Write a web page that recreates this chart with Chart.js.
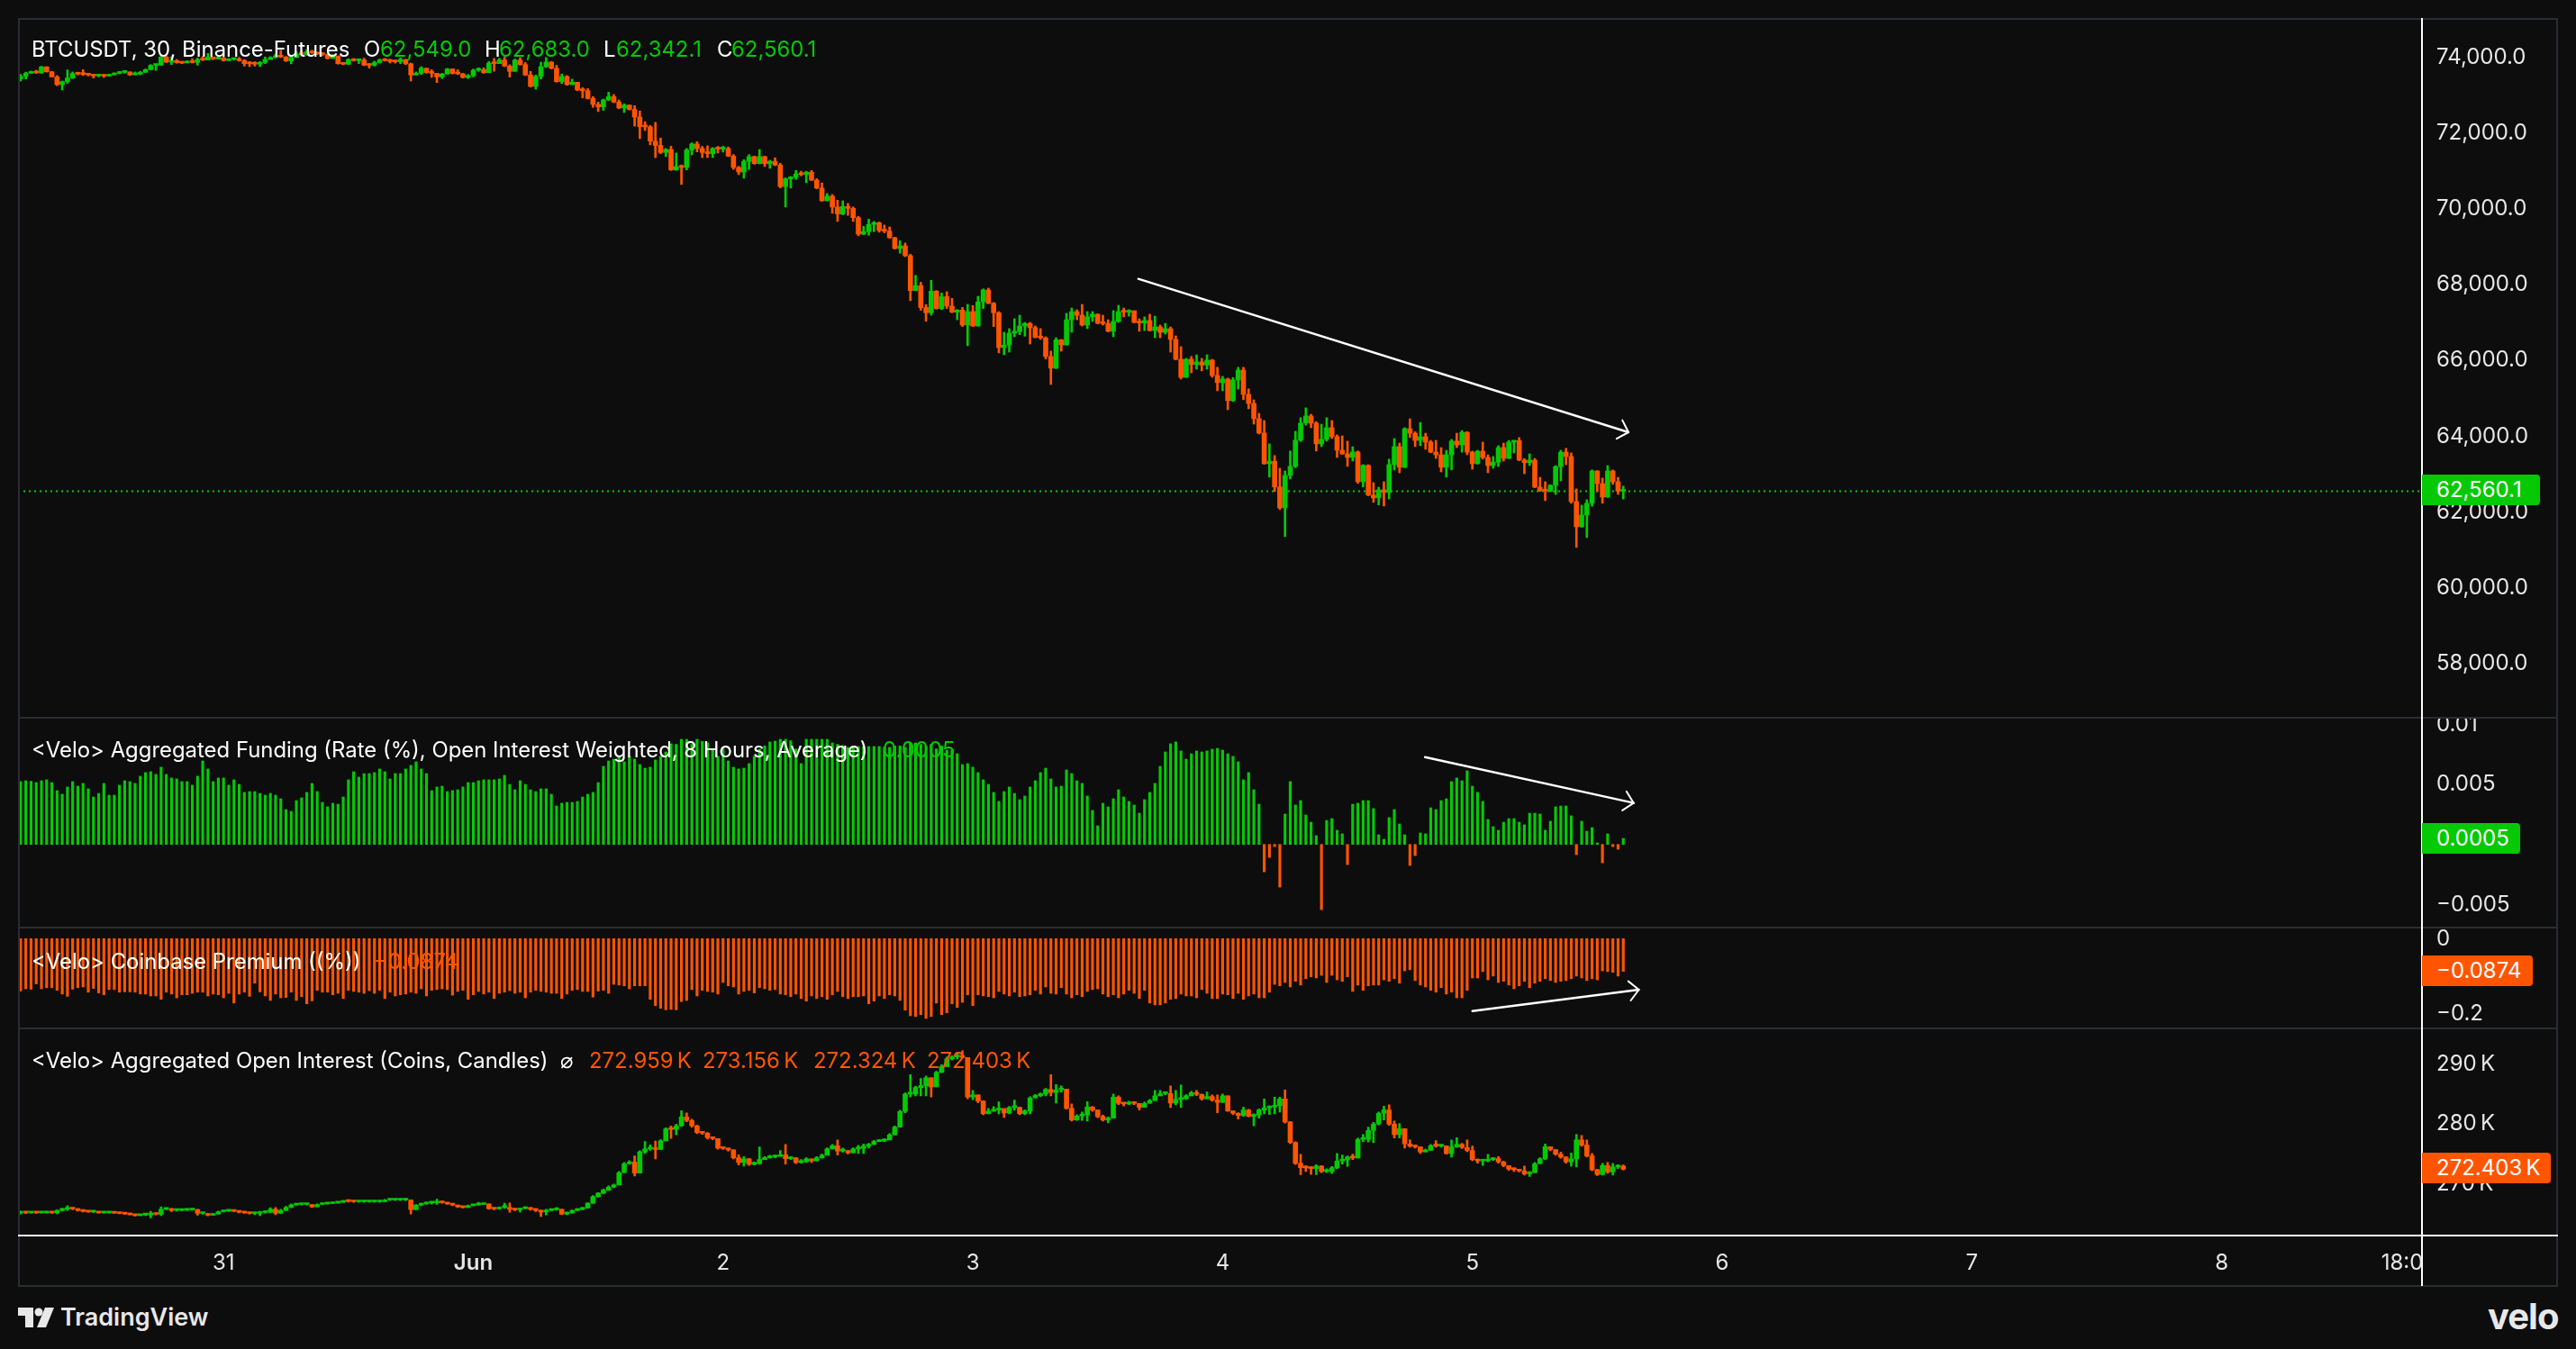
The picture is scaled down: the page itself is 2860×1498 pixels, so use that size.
<!DOCTYPE html>
<html><head><meta charset="utf-8">
<script src="https://cdn.jsdelivr.net/npm/chart.js@4/dist/chart.umd.min.js"></script>
<style>
html,body{margin:0;padding:0;background:#0d0d0e;width:2860px;height:1498px;overflow:hidden}
#s{position:relative;width:2860px;height:1498px;font-family:Inter,"Noto Sans",sans-serif}
canvas{position:absolute;left:0}
.l{position:absolute;background:#2a2c34}
.w{position:absolute;background:#fff}
.t{position:absolute;font-size:23.9px;line-height:30px;height:30px;color:#fff;white-space:pre;margin-top:-15px}
.g{color:#05c905}.o{color:#ff5500}
.tag{position:absolute;left:2689px;height:34px;line-height:34px;font-size:24px;color:#fff;padding-left:16px;box-sizing:border-box;border-radius:0 4px 4px 0}
</style></head><body><div id="s">
<canvas id="c1" width="2860" height="777" style="top:20px"></canvas>
<canvas id="c2" width="2860" height="233" style="top:797px"></canvas>
<canvas id="c3" width="2860" height="112" style="top:1030px"></canvas>
<canvas id="c4" width="2860" height="286" style="top:1142px"></canvas>
</div>
<script>
// ---- data ----
const btcFirstOpen = 73430;
const btcClose = [
73500,73580,73620,73590,73750,73620,73485,73280,73360,73455,
73575,73560,73550,73535,73510,73520,73505,73540,73575,73605,
73615,73540,73560,73605,73675,73790,73795,74010,73875,73915,
73860,73850,73890,73865,73945,73930,74010,73955,73985,73915,
73945,73955,73915,73835,73830,73820,73865,73945,73995,74040,
74010,73905,73995,74090,74075,74150,74120,74090,74075,73970,
74040,73835,73820,73940,73915,73930,73795,73790,73865,73930,
73915,73890,73883,73945,73830,73535,73580,73715,73600,73580,
73485,73560,73695,73575,73565,73470,73520,73660,73675,73595,
73850,73835,73930,73772,73630,73930,73810,73535,73235,73495,
73755,73875,73710,73360,73495,73280,73345,73140,73120,72915,
72760,72695,72875,72965,72820,72665,72740,72625,72425,72170,
72165,71790,71675,71490,71570,71030,71120,71095,71555,71715,
71595,71490,71460,71595,71580,71595,71395,71095,70975,71255,
71380,71195,71380,71195,71255,71160,70590,70795,70835,70920,
70905,70970,70760,70550,70215,70335,70050,69865,70065,70015,
69770,69335,69400,69590,69635,69430,69415,69240,68955,69025,
68765,67845,67975,67395,67260,67830,67370,67685,67435,67275,
67330,66935,67290,66910,67545,67860,67510,67260,66340,66405,
66720,66760,66910,66975,66865,66610,66595,66105,65795,66545,
66410,67075,67290,67195,66935,67150,67220,66980,66975,66770,
67030,67290,67275,67315,67005,66990,67055,66790,66885,66745,
66840,66555,66030,65555,66030,65890,65960,65880,66010,65605,
65415,65510,64940,65485,65745,65105,64865,64465,64085,63275,
63340,62660,62110,62965,63205,63895,64345,64535,64345,63800,
63915,64225,63990,63630,63535,63440,63585,62800,63230,62445,
62375,62585,62515,63250,63725,63180,64200,64080,63890,63985,
63845,63580,63510,63180,63510,63870,63770,64105,63580,63275,
63605,63440,63225,63315,63700,63415,63845,63885,63370,63300,
63370,62655,62560,62555,62705,63200,63580,63465,62275,61610,
61920,62230,63085,62750,62395,63085,62800,62549,62560.1];
const btcHigh = [
73550,73610,73640,73660,73765,73755,73630,73520,73375,73670,
73615,73600,73675,73580,73550,73550,73545,73560,73590,73630,
73630,73620,73615,73630,73695,73810,73820,74025,74025,74010,
73945,73890,73915,73960,73985,74025,74105,74010,74020,74010,
73970,73970,74000,73940,73890,73885,73890,74010,74020,74090,
74185,74025,74025,74150,74185,74205,74185,74135,74120,74090,
74075,74025,73865,73965,73970,73955,73980,73830,73900,73955,
73970,73955,73930,73985,73945,73850,73615,73755,73710,73675,
73565,73580,73710,73695,73675,73580,73550,73690,73725,73725,
73890,73970,73975,74010,73805,73955,73995,73865,73630,73535,
73875,73995,73890,73790,73560,73520,73425,73335,73200,73175,
72965,72820,72900,73080,73020,72875,72775,72740,72725,72585,
72300,72205,72285,71870,71595,71655,71475,71160,71595,71745,
71775,71650,71665,71620,71650,71655,71635,71435,71125,71300,
71435,71395,71570,71395,71285,71350,71205,70820,70855,71015,
70995,70995,71015,70800,70685,70405,70380,70230,70215,70145,
70050,69805,69540,69730,69670,69655,69575,69525,69255,69160,
69100,68805,68245,68065,67475,68115,67845,67780,67815,67640,
67345,67400,67480,67450,67695,67890,67910,67530,67290,66745,
66840,67100,67195,67005,67005,66910,66840,66625,66245,66600,
66555,67245,67385,67340,67480,67290,67290,67230,67195,67075,
67315,67455,67385,67340,67300,67100,67150,67220,67170,66935,
66980,66885,66650,66365,66055,66105,66150,66055,66150,66030,
65820,65580,65535,65550,65820,65820,65250,64960,64605,64415,
63800,63490,63155,63085,63610,64130,64490,64750,64580,64385,
64320,64490,64415,64035,64010,63870,63725,63610,63250,63250,
62775,62655,62800,63395,63940,63820,64225,64460,64120,64365,
64080,63890,63890,63700,63630,63915,64080,64150,64120,63605,
63630,63845,63510,63465,63750,63820,63890,63890,63965,63410,
63535,63415,62915,62800,62720,63225,63630,63680,63560,62610,
62180,62325,63110,63090,62895,63225,63110,62915,62683];
const btcLow = [
73375,73430,73580,73575,73575,73610,73480,73255,73140,73315,
73440,73535,73520,73510,73455,73485,73470,73505,73540,73565,
73580,73520,73535,73540,73600,73670,73655,73790,73860,73810,
73845,73835,73865,73850,73795,73915,73930,73940,73960,73900,
73915,73925,73900,73770,73755,73770,73755,73835,73945,73980,
73995,73890,73830,73995,74055,74055,74105,74075,74040,73955,
73995,73820,73805,73810,73900,73835,73780,73715,73770,73850,
73900,73850,73850,73835,73810,73375,73535,73550,73580,73470,
73335,73440,73560,73560,73550,73455,73440,73485,73630,73580,
73595,73635,73835,73755,73480,73630,73795,73520,73215,73160,
73430,73730,73695,73345,73310,73265,73280,73120,72930,72900,
72680,72570,72600,72855,72805,72645,72545,72610,72185,71855,
72070,71690,71355,71460,71380,71015,71015,70645,71030,71425,
71505,71355,71355,71355,71475,71500,71380,71045,70905,70810,
71045,71180,71190,71120,71070,71140,70555,70050,70550,70780,
70875,70690,70745,70530,70200,70210,69885,69670,69845,69830,
69670,69290,69320,69305,69400,69385,69370,69225,68940,68830,
68740,67580,67840,67325,67035,67195,67355,67340,67370,67260,
67075,66895,66390,66895,66905,67370,67495,66895,66200,66150,
66220,66625,66680,66640,66435,66595,66555,66040,65365,65785,
66245,66405,66745,67075,66910,66840,67030,66965,66935,66755,
66625,67005,67150,67170,66990,66770,66790,66775,66600,66600,
66695,66220,66015,65510,65550,65675,65770,65725,65770,65555,
65200,65200,64700,64915,65245,64965,64725,64320,64060,63260,
62920,62540,62065,61350,62870,63170,63860,64295,64225,63610,
63725,63870,63940,63440,63520,63205,63345,62755,62660,62430,
62255,62185,62160,62345,63110,63035,63170,63965,63725,63750,
63655,63565,63415,63060,62920,63110,63700,63580,63510,63130,
63265,63395,63035,63155,63200,63345,63410,63560,63355,63010,
63225,62640,62545,62300,62535,62465,62820,63250,62230,61065,
61600,61325,62155,62540,62230,62385,62730,62465,62342.1];

const fundingRate = [
.00523,.0053,.00525,.00515,.0053,.00538,.00515,.00448,.00418,.00478,
.00523,.00485,.00508,.00463,.00395,.00425,.00508,.0041,.0041,.00493,
.0053,.00523,.00508,.00568,.00598,.00605,.00583,.00643,.00583,.00553,
.00545,.00523,.00523,.00493,.00568,.00695,.00628,.00523,.00553,.00553,
.00493,.00538,.005,.00433,.0044,.0044,.00425,.0041,.00425,.0041,
.0038,.0029,.00275,.00365,.00388,.00433,.00508,.0044,.0035,.00313,
.00343,.00335,.00395,.00538,.00605,.0056,.0059,.0059,.00598,.00628,
.00605,.00545,.0059,.0059,.00628,.00658,.00688,.00628,.0059,.00448,
.00478,.00485,.0044,.00448,.00455,.00478,.00515,.00515,.0053,.00538,
.00538,.00538,.00545,.00575,.005,.00455,.0053,.005,.00455,.0044,
.00463,.00463,.00418,.0032,.00343,.0035,.0035,.00358,.00395,.00418,
.00433,.00515,.0065,.00695,.0071,.00733,.00688,.00733,.0071,.00665,
.00635,.00643,.00703,.00733,.0077,.00838,.00833,.00875,.00875,.00833,
.00875,.00858,.00845,.00793,.00733,.00793,.00695,.00643,.00628,.00635,
.00673,.00733,.00793,.0082,.00853,.0086,.00875,.00875,.00863,.00793,
.00673,.00875,.00875,.00875,.00875,.00875,.00845,.00833,.00823,.00808,
.00808,
.00815,.00815,.00815,.00815,.00815,.00808,.00808,.0082,.0082,.00808,
.00845,.00845,.00833,.0082,.00833,.00795,.0082,.00783,.00783,.00755,
.00665,.00673,.00643,.00598,.00538,.005,.00433,.00358,.0044,.00478,
.00425,.00373,.00403,.00478,.0053,.00598,.00635,.00545,.00478,.00485,
.0062,.0059,.0053,.00508,.00403,.00283,.00155,.00343,.00313,.0038,
.00455,.00395,.00358,.00328,.0026,.00373,.00433,.00508,.0065,.0077,
.00838,.00853,.00778,.0071,.00755,.00778,.0077,.00778,.00793,.008,
.00785,.00755,.00733,.00688,.00538,.00598,.00455,.00335,-.00228,-.00108,
-.00018,-.00355,.00253,.00523,.00328,.00365,.00245,.00185,.00073,-.00543,
.002,.00215,.00118,.00088,-.00168,.00335,.00343,.00365,.00365,.00298,
.0008,.00043,.00223,.0029,.0017,.0008,-.00175,-.00093,.00095,.00088,
.00305,.0029,.00365,.0038,.00523,.00553,.0053,.00613,.00485,.00433,
.00358,.00208,.00148,.00118,.00185,.00215,.00215,.00185,.00163,.0026,
.0026,.00253,.00118,.00193,.00313,.0032,.0032,.00238,-.00085,.00193,
.0011,.0014,.00013,-.00153,.00088,-.00018,-.0004,.0005];

const coinbasePremium = [
-.140,-.134,-.135,-.121,-.134,-.131,-.131,-.138,-.148,-.154,
-.135,-.131,-.129,-.143,-.133,-.145,-.150,-.136,-.136,-.143,
-.142,-.142,-.143,-.148,-.148,-.153,-.153,-.162,-.143,-.148,
-.158,-.150,-.150,-.146,-.143,-.143,-.153,-.148,-.150,-.158,
-.146,-.172,-.148,-.143,-.154,-.119,-.142,-.153,-.165,-.148,
-.158,-.157,-.143,-.165,-.155,-.174,-.166,-.138,-.143,-.143,
-.150,-.146,-.160,-.138,-.141,-.143,-.146,-.139,-.146,-.138,
-.160,-.143,-.153,-.150,-.148,-.143,-.146,-.134,-.153,-.138,
-.136,-.134,-.136,-.151,-.141,-.138,-.162,-.150,-.141,-.148,
-.143,-.160,-.146,-.143,-.139,-.146,-.143,-.158,-.143,-.138,
-.141,-.143,-.146,-.146,-.160,-.148,-.138,-.136,-.141,-.141,
-.156,-.140,-.138,-.146,-.122,-.124,-.126,-.134,-.126,-.126,
-.126,-.162,-.179,-.186,-.190,-.189,-.190,-.168,-.165,-.136,
-.153,-.138,-.141,-.143,-.148,-.117,-.126,-.129,-.148,-.141,
-.138,-.145,-.131,-.134,-.138,-.136,-.148,-.150,-.155,-.148,
-.160,-.167,-.153,-.160,-.155,-.162,-.150,-.141,-.155,-.160,
-.155,
-.155,-.153,-.174,-.167,-.153,-.160,-.150,-.153,-.165,-.191,
-.206,-.208,-.203,-.213,-.208,-.172,-.203,-.198,-.174,-.184,
-.170,-.150,-.179,-.150,-.153,-.155,-.158,-.141,-.148,-.153,
-.143,-.155,-.153,-.150,-.138,-.148,-.129,-.146,-.148,-.131,
-.148,-.158,-.150,-.155,-.141,-.136,-.134,-.148,-.155,-.150,
-.158,-.148,-.138,-.146,-.160,-.138,-.172,-.177,-.177,-.172,
-.162,-.160,-.148,-.153,-.153,-.158,-.136,-.146,-.160,-.160,
-.148,-.150,-.160,-.146,-.162,-.153,-.148,-.158,-.158,-.143,
-.122,-.126,-.117,-.129,-.114,-.124,-.107,-.102,-.105,-.098,
-.117,-.098,-.110,-.114,-.102,-.141,-.124,-.138,-.126,-.124,
-.124,-.110,-.114,-.107,-.119,-.086,-.083,-.112,-.124,-.129,
-.138,-.143,-.131,-.148,-.143,-.158,-.158,-.138,-.105,-.105,
-.088,-.110,-.100,-.117,-.114,-.124,-.134,-.126,-.114,-.131,
-.119,-.114,-.107,-.112,-.117,-.114,-.112,-.107,-.100,-.105,
-.112,-.107,-.110,-.086,-.088,-.090,-.100,-.0874];

const oiFirstOpen = 265.10;
const oiClose = [
265.24,265.14,265.19,265.14,265.14,265.24,265.14,265.54,265.74,265.94,
265.79,265.54,265.39,265.29,265.29,265.14,265.14,265.14,265.09,265.04,
264.94,264.84,264.69,264.79,264.79,264.99,264.89,265.74,265.84,265.54,
265.54,265.59,265.64,265.69,265.04,265.04,264.74,264.94,265.34,265.44,
265.49,265.39,265.24,265.14,265.04,265.04,265.19,265.24,265.74,265.09,
265.54,266.04,266.44,266.54,266.54,266.54,266.14,266.54,266.64,266.69,
266.79,266.89,267.09,267.04,266.99,266.99,266.99,266.99,266.99,266.99,
267.29,267.29,267.29,267.29,267.29,265.69,266.44,266.64,266.79,266.79,
267.04,266.84,266.64,266.44,266.14,266.04,266.34,266.44,266.54,266.64,
265.84,265.79,266.04,266.04,265.74,265.64,265.84,265.94,265.74,265.54,
265.29,265.54,265.64,265.74,264.94,265.14,265.54,265.74,265.94,266.74,
267.84,268.44,268.94,269.44,269.79,271.84,273.35,273.65,271.79,275.31,
275.81,275.81,275.71,277.16,279.16,279.06,279.66,281.17,280.57,279.66,
278.56,278.46,277.71,277.56,275.96,275.91,275.66,274.35,273.55,274.15,
273.25,273.35,274.05,274.35,274.50,274.55,274.85,274.20,274.35,273.55,
273.65,274.15,273.80,274.35,274.75,275.81,276.36,275.46,275.56,275.16,
275.81,275.91,276.31,276.56,277.06,277.16,277.31,278.16,279.46,282.07,
284.97,284.97,286.08,286.33,287.68,286.18,288.58,289.58,290.84,291.19,
291.34,291.09,284.47,284.82,283.82,281.72,282.12,282.32,282.57,281.82,
282.72,282.77,281.72,282.17,284.32,284.72,284.97,285.73,285.23,285.68,
285.83,282.57,280.67,281.32,281.47,282.82,282.32,281.22,280.67,280.97,
284.47,283.42,283.32,283.57,283.42,282.77,283.42,283.87,284.67,285.07,
285.07,283.47,284.07,284.17,284.67,285.23,284.92,284.17,284.57,283.97,
283.57,284.67,282.17,281.77,281.42,282.32,281.27,281.47,282.32,282.67,
282.82,283.07,284.17,280.32,276.91,273.40,272.70,272.65,272.55,272.95,
272.05,272.05,272.65,273.80,273.95,274.45,274.30,277.41,277.41,278.91,
279.96,281.77,282.32,279.96,278.21,279.21,276.66,276.31,276.16,275.31,
275.56,276.36,276.31,276.36,275.05,276.16,276.56,276.06,275.56,274.05,
273.80,273.80,274.05,274.20,273.65,273.05,272.45,272.35,272.15,271.65,
271.85,273.35,274.15,276.21,275.71,274.95,274.45,273.65,274.15,277.31,
276.46,274.65,272.35,271.55,273.05,271.95,272.80,272.959,272.403];
const oiHigh = [
265.44,265.29,265.29,265.24,265.34,265.39,265.29,265.64,265.94,266.34,
265.94,265.84,265.54,265.44,265.39,265.29,265.24,265.19,265.19,265.14,
265.09,264.99,264.89,264.89,264.94,265.39,265.14,266.14,265.94,265.89,
265.69,265.69,265.74,265.79,265.74,265.14,265.04,265.04,265.44,265.54,
265.59,265.54,265.44,265.29,265.19,265.14,265.39,265.44,265.99,266.04,
265.74,266.24,266.64,266.64,266.64,266.64,266.54,266.64,266.74,266.79,
266.89,266.99,267.19,267.14,267.09,267.09,267.09,267.09,267.09,267.09,
267.39,267.39,267.39,267.39,267.39,267.29,266.54,266.74,266.94,266.99,
267.44,267.04,266.84,266.64,266.44,266.14,266.44,266.54,266.89,266.74,
266.64,265.89,266.14,266.74,266.79,265.84,265.94,266.14,266.04,265.84,
265.59,265.74,265.74,266.04,265.74,265.29,265.64,265.84,266.04,266.84,
268.04,268.54,269.14,269.64,269.94,272.04,273.55,273.85,274.65,275.51,
277.06,276.51,277.15,277.36,279.36,279.66,279.96,282.22,281.82,280.76,
279.81,278.76,278.56,277.86,277.56,276.16,275.96,275.66,274.85,274.55,
274.25,273.65,276.16,274.55,274.75,274.75,275.56,276.56,274.55,274.35,
274.05,274.35,274.15,274.55,274.95,276.01,276.56,277.31,275.96,275.56,
276.01,276.41,276.66,276.76,277.26,277.36,277.51,278.36,279.66,282.27,
285.17,288.23,286.28,287.58,287.98,287.68,288.78,289.88,291.14,291.39,
291.94,292.19,290.94,285.58,284.82,283.82,282.58,282.87,283.67,282.42,
282.92,283.97,282.82,282.37,284.52,284.92,285.17,285.93,288.23,286.58,
286.33,285.83,283.32,281.52,281.97,283.72,282.92,282.32,281.47,281.17,
284.97,284.67,283.52,283.77,283.67,283.42,283.62,284.07,285.58,285.58,
285.27,286.33,285.58,286.48,284.87,285.43,285.58,284.97,285.33,284.82,
284.82,284.97,284.67,282.17,281.87,282.82,282.42,281.67,282.52,284.17,
283.02,284.47,284.47,285.68,280.42,277.01,274.90,273.00,272.90,273.20,
273.05,272.50,272.90,275.05,274.80,274.65,274.95,277.61,278.21,279.46,
280.26,281.97,282.97,283.17,280.46,280.06,279.21,277.31,276.51,276.16,
275.76,276.56,277.21,276.56,276.36,277.31,277.71,276.76,277.31,276.31,
274.15,274.00,274.90,274.40,274.55,273.80,273.05,272.65,272.40,272.95,
272.05,273.55,274.35,276.66,276.21,275.71,275.30,274.55,275.15,278.21,
278.06,277.31,275.05,272.45,273.40,273.55,273.40,273.20,273.156];
const oiLow = [
264.93,265.03,265.09,265.04,265.09,265.14,265.04,264.98,265.44,265.54,
265.64,265.44,265.29,265.24,265.19,265.09,265.09,265.09,265.04,264.99,
264.89,264.79,264.59,264.69,264.69,264.29,264.79,264.69,265.64,265.34,
265.44,265.49,265.54,265.59,264.74,264.89,264.64,264.74,264.94,265.29,
265.39,265.34,265.14,265.04,264.94,264.84,264.69,265.09,265.14,264.84,
265.04,265.49,266.04,266.44,266.44,266.44,266.04,266.14,266.54,266.59,
266.69,266.79,266.89,266.94,266.89,266.89,266.89,266.89,266.89,266.89,
266.99,267.19,267.19,267.19,267.19,264.94,265.64,266.34,266.59,266.59,
266.54,266.74,266.54,266.34,266.04,265.94,266.04,266.34,266.44,266.54,
265.74,265.64,265.74,265.89,265.24,265.49,265.29,265.84,265.59,265.34,
264.54,264.79,265.49,265.59,264.84,264.84,265.09,265.49,265.64,265.94,
266.74,267.74,268.34,268.84,269.34,269.79,271.84,273.25,271.29,271.79,
275.06,275.56,274.15,275.71,277.16,277.56,278.16,279.56,280.37,279.46,
278.36,278.26,277.46,277.36,275.76,275.71,275.46,274.15,273.15,272.95,
273.05,273.15,273.25,274.05,274.25,274.35,274.55,273.30,274.05,273.35,
273.45,273.55,273.55,273.80,274.25,274.75,275.81,274.80,275.26,274.96,
275.16,275.05,275.05,275.96,276.56,277.06,277.06,277.36,278.16,279.46,
281.87,284.47,284.67,284.67,284.67,284.47,286.18,288.58,289.58,290.64,
290.84,290.99,284.17,284.02,283.52,281.52,281.67,282.07,281.67,281.07,
281.67,282.32,281.52,281.52,281.67,284.32,284.52,284.67,284.67,283.47,
285.33,282.47,280.47,280.57,280.57,280.47,282.07,281.02,280.47,280.17,
280.97,283.22,282.97,283.22,283.22,282.32,282.77,283.42,283.87,284.67,
284.87,282.72,283.17,282.72,284.07,284.67,284.72,283.97,284.17,283.77,
281.87,283.57,282.07,281.57,280.82,281.27,281.17,279.66,280.97,281.67,
281.57,281.67,281.97,280.12,276.71,273.20,271.50,272.05,271.55,271.50,
271.85,271.85,271.70,272.55,273.30,272.90,274.05,274.30,277.06,276.96,
276.86,279.81,280.67,279.76,277.66,277.66,275.96,276.11,275.96,275.06,
275.31,275.56,276.11,276.11,274.95,274.45,276.06,275.86,275.36,273.85,
273.45,273.05,273.65,273.90,273.45,272.85,272.25,272.05,271.95,271.45,
271.20,271.85,273.35,274.05,275.51,274.75,274.25,273.45,272.95,272.80,
276.26,274.45,272.15,271.35,271.45,271.75,271.45,272.55,272.324];

const timeTicks = {39:'31',87:'Jun',135:'2',183:'3',231:'4',279:'5',327:'6',375:'7',423:'8',459:'18:00'};
const slotCount = 462;
const btcTicks = [58000,60000,62000,64000,66000,68000,70000,72000,74000];
const fundingTicks = [-0.005,0.005,0.01];
const premiumTicks = [-0.2,0];
const oiTicks = [270,280,290];
const btcArrow = [214.8,68153,309,64105];
const fundingArrow = [269.9,0.00727,310,0.00345];
const premiumArrow = [279,-0.1933,311,-0.1363];
const lastPrice = 62560.1;

// ---- styling ----
const GREEN='#05c905', ORANGE='#ff5500', BG='#0d0d0e';
const labels=[...Array(slotCount).keys()].map(i=>timeTicks[i]||'');
const FONT='Inter, "Noto Sans", sans-serif';

function ohlc(first,close,high,low){
  const open=[first,...close.slice(0,-1)];
  return {
    wick:close.map((c,i)=>[low[i],high[i]]),
    body:close.map((c,i)=>[open[i],c]),
    col:close.map((c,i)=>c>=open[i]?GREEN:ORANGE)
  };
}
function candleSets(d){
  return [
   {data:d.wick,backgroundColor:d.col,barThickness:2,grouped:false,order:2},
   {data:d.body,backgroundColor:d.col,barThickness:5,grouped:false,order:1,minBarLength:2}
  ];
}
const arrowPlugin=a=>({id:'arrow',afterDatasetsDraw(ch){
  const x=ch.scales.x,y=ch.scales.y,c=ch.ctx;
  const px=v=>x.left+(v+0.5)*(x.right-x.left)/slotCount;
  const x0=px(a[0]),y0=y.getPixelForValue(a[1]),x1=px(a[2]),y1=y.getPixelForValue(a[3]);
  const ang=Math.atan2(y0-y1,x0-x1);
  c.save();c.strokeStyle='#fff';c.lineWidth=2.4;c.lineCap='round';
  c.beginPath();c.moveTo(x0,y0);c.lineTo(x1,y1);c.stroke();
  c.lineWidth=2;c.beginPath();
  [-0.8,0.8].forEach(t=>{c.moveTo(x1,y1);c.lineTo(x1+15*Math.cos(ang+t),y1+15*Math.sin(ang+t));});
  c.stroke();c.restore();
}});
const priceLine={id:'priceLine',beforeDatasetsDraw(ch){
  const y=Math.round(ch.scales.y.getPixelForValue(lastPrice))+.5,c=ch.ctx;
  c.save();c.strokeStyle=GREEN;c.lineWidth=2;c.setLineDash([2,4]);
  c.beginPath();c.moveTo(ch.chartArea.left,y);c.lineTo(ch.chartArea.right,y);c.stroke();c.restore();
}};
const cover={id:'cover',afterDraw(ch){
  const c=ch.ctx;c.save();c.fillStyle=BG;
  c.fillRect(ch.chartArea.right,ch.chartArea.bottom+1,148,54);c.restore();
}};
function make(id,datasets,min,max,ticks,fmt,plugins,showX){
  return new Chart(document.getElementById(id),{
   type:'bar',
   data:{labels,datasets},
   plugins,
   options:{
    responsive:false,animation:false,devicePixelRatio:1,
    layout:{padding:{left:20,right:20,top:0,bottom:0}},
    plugins:{legend:{display:false},tooltip:{enabled:false}},
    events:[],
    scales:{
     x:{display:showX?true:false,offset:true,grid:{display:false,drawTicks:false},border:{display:false},
        afterFit(s){if(showX)s.height=55.5;s.paddingLeft=0;s.paddingRight=0;},
        ticks:{autoSkip:false,maxRotation:0,minRotation:0,color:'#e6e6e6',padding:16,
               font:c=>({family:FONT,size:24,weight:(c.tick&&c.tick.label==='Jun')?'600':'400'})}},
     y:{position:'right',min,max,grid:{display:false,drawTicks:false},border:{display:false},
        afterFit(s){s.width=151;s.paddingTop=0;s.paddingBottom=0;},
        afterBuildTicks(s){s.ticks=ticks.map(v=>({value:v}));},
        ticks:{autoSkip:false,color:'#e6e6e6',padding:16,font:{family:FONT,size:24},callback:fmt}}
    }
   }
  });
}
const minus=s=>s.replace('-','\u2212');
make('c1',candleSets(ohlc(btcFirstOpen,btcClose,btcHigh,btcLow)),56570,75039,btcTicks,
  v=>v.toLocaleString('en-US',{minimumFractionDigits:1}),[priceLine,arrowPlugin(btcArrow)],false);
make('c2',[{data:fundingRate,backgroundColor:fundingRate.map(v=>v>=0?GREEN:ORANGE),barThickness:2.5}],
  -0.00692,0.010547,fundingTicks,v=>minus(String(v)),[arrowPlugin(fundingArrow)],false);
make('c3',[{data:coinbasePremium,backgroundColor:ORANGE,barThickness:2.5}],
  -0.2397,0.02957,premiumTicks,v=>minus(String(v)),[arrowPlugin(premiumArrow)],false);
make('c4',candleSets(ohlc(oiFirstOpen,oiClose,oiHigh,oiLow)),261.28,295.94,oiTicks,
  v=>v+'\u2009K',[cover],true);

// ---- overlay: frame, legends, last-value tags ----
const s=document.getElementById('s');
function el(cls,css,html){const d=document.createElement('div');d.className=cls;d.style.cssText=css;if(html!==undefined)d.textContent=html;s.appendChild(d);return d;}
el('l','left:20px;top:20px;width:2820px;height:2px');
el('l','left:20px;top:20px;width:2px;height:1408px');
el('l','left:2838px;top:20px;width:2px;height:1408px');
el('l','left:20px;top:1427px;width:2820px;height:2px');
[796,1029,1141].forEach(y=>el('l',`left:20px;top:${y}px;width:2820px;height:2px`));
el('w','left:20px;top:1371px;width:2820px;height:2px');
el('w','left:2688px;top:20px;width:2px;height:1408px');
function txt(x,y,t,c){el('t '+(c||''),`left:${x}px;top:${y}px`,t);}
txt(35,55,'BTCUSDT, 30, Binance-Futures');
txt(404,55,'O');txt(422,55,'62,549.0','g');
txt(538,55,'H');txt(554,55,'62,683.0','g');
txt(670,55,'L');txt(684,55,'62,342.1','g');
txt(796,55,'C');txt(812,55,'62,560.1','g');
txt(35,833,'<Velo> Aggregated Funding (Rate (%), Open Interest Weighted, 8 Hours, Average)');
txt(980,833,'0.0005','g');
txt(35,1068,'<Velo> Coinbase Premium ((%))');
txt(415,1068,'\u22120.0874','o');
txt(35,1178,'<Velo> Aggregated Open Interest (Coins, Candles)');
txt(622,1178,'\u2300');
txt(654,1178,'272.959\u2009K','o');txt(780,1178,'273.156\u2009K','o');
txt(903,1178,'272.324\u2009K','o');txt(1029,1178,'272.403\u2009K','o');
el('tag','top:527px;width:131px;background:'+GREEN,'62,560.1');
el('tag','top:914px;width:109px;background:'+GREEN,'0.0005');
el('tag','top:1061px;width:123px;background:'+ORANGE,'\u22120.0874');
el('tag','top:1280px;width:143px;background:'+ORANGE,'272.403\u2009K');
// footer
const tv=el('t','left:67px;top:1463px;font-size:27px;font-weight:600;color:#e8e8e8','TradingView');
const logo=document.createElementNS('http://www.w3.org/2000/svg','svg');
logo.setAttribute('width','40');logo.setAttribute('height','22');logo.setAttribute('viewBox','0 0 40 22');
logo.style.cssText='position:absolute;left:20px;top:1452px';
logo.innerHTML='<path fill="#e8e8e8" d="M0 0H17V22H8V9H0Z"/><circle cx="23" cy="5" r="4.5" fill="#e8e8e8"/><path fill="#e8e8e8" d="M30 0H40L31 22H21Z"/>';
s.appendChild(logo);
el('t','left:2762px;top:1462px;font-size:40px;line-height:40px;height:40px;margin-top:-20px;font-weight:700;color:#e8e8e8;letter-spacing:-1px','velo');
</script>
</body></html>
